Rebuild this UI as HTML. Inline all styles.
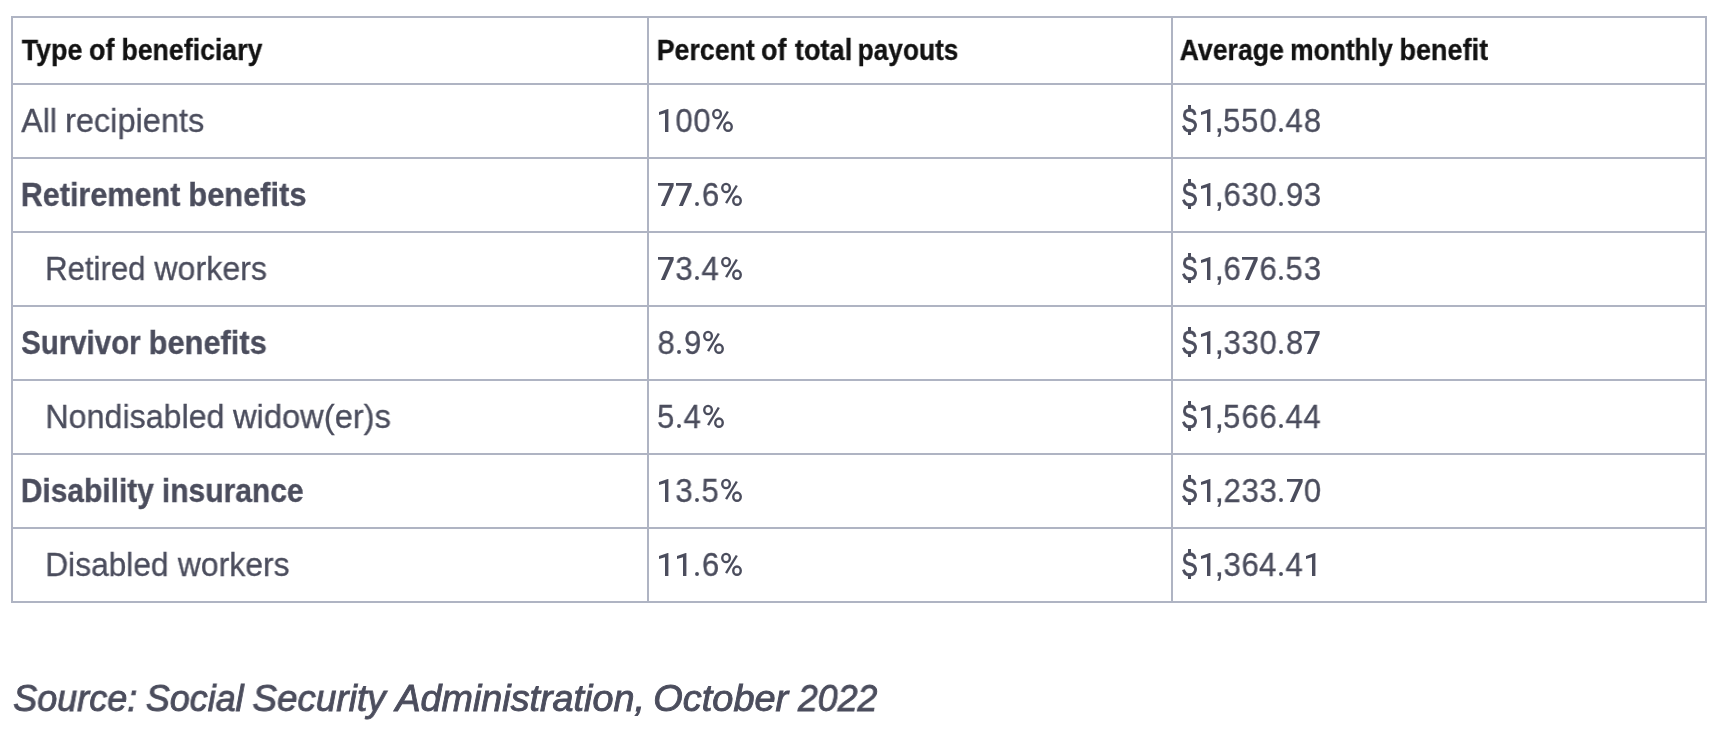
<!DOCTYPE html>
<html><head><meta charset="utf-8"><style>
html,body{margin:0;padding:0;background:#fff;width:1726px;height:734px;overflow:hidden;position:relative}
.h{position:absolute;left:11px;width:1696px;height:2px;background:#afb4c3}
.v{position:absolute;top:16px;width:2px;height:587px;background:#afb4c3}
.th,.td,.src{position:absolute;white-space:nowrap;font-family:"Liberation Sans",sans-serif;line-height:0;height:0;will-change:transform;transform-origin:0 0}
.th{font-size:29px;font-weight:700;color:#121212;-webkit-text-stroke:0.3px #121212}
.td{font-size:33px;color:#4b4d5d;-webkit-text-stroke:0.3px #4b4d5d}
.td.b{font-weight:700;-webkit-text-stroke:0.35px #4b4d5d}
.g{position:absolute;overflow:visible}
.src{font-size:37px;font-style:italic;color:#4b4d5d;-webkit-text-stroke:0.9px #4b4d5d}
</style></head><body>
<div class="h" style="top:16px"></div>
<div class="h" style="top:83px"></div>
<div class="h" style="top:157px"></div>
<div class="h" style="top:231px"></div>
<div class="h" style="top:305px"></div>
<div class="h" style="top:379px"></div>
<div class="h" style="top:453px"></div>
<div class="h" style="top:527px"></div>
<div class="h" style="top:601px"></div>
<div class="v" style="left:11px"></div>
<div class="v" style="left:647px"></div>
<div class="v" style="left:1171px"></div>
<div class="v" style="left:1705px"></div>
<div class="th" style="left:21px;top:50px;transform:translateX(0.700px) scaleX(0.9246)">Type</div>
<div class="th" style="left:88px;top:50px;transform:translateX(0.870px) scaleX(0.9333)">of</div>
<div class="th" style="left:121px;top:50px;transform:translateX(0.460px) scaleX(0.9205)">beneﬁciary</div>
<div class="th" style="left:656px;top:50px;transform:translateX(0.760px) scaleX(0.9212)">Percent</div>
<div class="th" style="left:760px;top:50px;transform:translateX(0.970px) scaleX(0.9296)">of</div>
<div class="th" style="left:794px;top:50px;transform:translateX(0.800px) scaleX(0.9373)">total</div>
<div class="th" style="left:857px;top:50px;transform:translateX(0.590px) scaleX(0.9065)">payouts</div>
<div class="th" style="left:1179px;top:50px;transform:translateX(0.680px) scaleX(0.9188)">Average</div>
<div class="th" style="left:1290px;top:50px;transform:translateX(0.080px) scaleX(0.9099)">monthly</div>
<div class="th" style="left:1399px;top:50px;transform:translateX(0.440px) scaleX(0.9323)">beneﬁt</div>
<div class="td" style="left:21px;top:121px;transform:translateX(0.200px) scaleX(0.9771)">All</div>
<div class="td" style="left:65px;top:121px;transform:translateX(0.030px) scaleX(0.9862)">recipients</div>
<svg class="g" style="left:657.30px;top:106px" width="14" height="28"><polygon points="11.40,3.05 11.40,26.00 8.00,26.00 8.00,7.30 2.00,8.90 2.00,5.90 10.70,3.05" fill="#4b4d5d"/></svg>
<div class="td" style="left:675px;top:121px;transform:translateX(0.440px) scaleX(0.94)">0</div>
<div class="td" style="left:693px;top:121px;transform:translateX(0.340px) scaleX(0.94)">0</div>
<svg class="g" style="left:710.05px;top:106px" width="26" height="28" fill="none" stroke="#4b4d5d" stroke-width="2.4"><ellipse cx="7.05" cy="8" rx="3.8" ry="4.15"/><ellipse cx="18.0" cy="20.65" rx="3.75" ry="4.15"/><line x1="7.1" y1="23.1" x2="17.8" y2="5.5"/></svg>
<div class="td" style="left:1181px;top:121px;transform:translateX(0.420px) scaleX(0.735);-webkit-text-stroke:0.8px #4b4d5d">S</div>
<div style="position:absolute;left:1188.45px;top:105.20px;width:2.6px;height:3.6px;background:#4b4d5d"></div>
<div style="position:absolute;left:1188.45px;top:131.20px;width:2.6px;height:3.6px;background:#4b4d5d"></div>
<svg class="g" style="left:1198.70px;top:106px" width="14" height="28"><polygon points="11.40,3.05 11.40,26.00 8.00,26.00 8.00,7.30 2.00,8.90 2.00,5.90 10.70,3.05" fill="#4b4d5d"/></svg>
<div class="td" style="left:1214px;top:121px;transform:translateX(0.700px) scaleX(1.0)">,</div>
<div class="td" style="left:1223px;top:121px;transform:translateX(0.070px) scaleX(0.94)">5</div>
<div class="td" style="left:1241px;top:121px;transform:translateX(0.070px) scaleX(0.94)">5</div>
<div class="td" style="left:1259px;top:121px;transform:translateX(0.540px) scaleX(0.94)">0</div>
<svg class="g" style="left:1277.00px;top:126.10px" width="8" height="8"><circle cx="4" cy="4" r="1.95" fill="#4b4d5d"/></svg>
<div class="td" style="left:1285px;top:121px;transform:translateX(0.470px) scaleX(0.94)">4</div>
<div class="td" style="left:1303px;top:121px;transform:translateX(0.840px) scaleX(0.94)">8</div>
<div class="td b" style="left:20px;top:195px;transform:translateX(0.750px) scaleX(0.9253)">Retirement</div>
<div class="td b" style="left:188px;top:195px;transform:translateX(0.330px) scaleX(0.9333)">beneﬁts</div>
<svg class="g" style="left:656.17px;top:180px" width="20" height="28"><polygon points="2.00,3.00 17.65,3.00 17.65,5.90 8.90,26.00 4.90,26.00 13.75,5.70 2.00,5.70" fill="#4b4d5d"/></svg>
<svg class="g" style="left:674.07px;top:180px" width="20" height="28"><polygon points="2.00,3.00 17.65,3.00 17.65,5.90 8.90,26.00 4.90,26.00 13.75,5.70 2.00,5.70" fill="#4b4d5d"/></svg>
<svg class="g" style="left:693.00px;top:200.10px" width="8" height="8"><circle cx="4" cy="4" r="1.95" fill="#4b4d5d"/></svg>
<div class="td" style="left:701px;top:195px;transform:translateX(0.940px) scaleX(0.94)">6</div>
<svg class="g" style="left:718.65px;top:180px" width="26" height="28" fill="none" stroke="#4b4d5d" stroke-width="2.4"><ellipse cx="7.05" cy="8" rx="3.8" ry="4.15"/><ellipse cx="18.0" cy="20.65" rx="3.75" ry="4.15"/><line x1="7.1" y1="23.1" x2="17.8" y2="5.5"/></svg>
<div class="td" style="left:1181px;top:195px;transform:translateX(0.420px) scaleX(0.735);-webkit-text-stroke:0.8px #4b4d5d">S</div>
<div style="position:absolute;left:1188.45px;top:179.20px;width:2.6px;height:3.6px;background:#4b4d5d"></div>
<div style="position:absolute;left:1188.45px;top:205.20px;width:2.6px;height:3.6px;background:#4b4d5d"></div>
<svg class="g" style="left:1198.70px;top:180px" width="14" height="28"><polygon points="11.40,3.05 11.40,26.00 8.00,26.00 8.00,7.30 2.00,8.90 2.00,5.90 10.70,3.05" fill="#4b4d5d"/></svg>
<div class="td" style="left:1214px;top:195px;transform:translateX(0.700px) scaleX(1.0)">,</div>
<div class="td" style="left:1223px;top:195px;transform:translateX(0.540px) scaleX(0.94)">6</div>
<div class="td" style="left:1241px;top:195px;transform:translateX(0.540px) scaleX(0.94)">3</div>
<div class="td" style="left:1259px;top:195px;transform:translateX(0.540px) scaleX(0.94)">0</div>
<svg class="g" style="left:1277.00px;top:200.10px" width="8" height="8"><circle cx="4" cy="4" r="1.95" fill="#4b4d5d"/></svg>
<div class="td" style="left:1285px;top:195px;transform:translateX(0.940px) scaleX(0.94)">9</div>
<div class="td" style="left:1303px;top:195px;transform:translateX(0.840px) scaleX(0.94)">3</div>
<div class="td" style="left:45px;top:269px;transform:translateX(0.110px) scaleX(0.9431)">Retired</div>
<div class="td" style="left:154px;top:269px;transform:translateX(0.300px) scaleX(0.9754)">workers</div>
<svg class="g" style="left:656.17px;top:254px" width="20" height="28"><polygon points="2.00,3.00 17.65,3.00 17.65,5.90 8.90,26.00 4.90,26.00 13.75,5.70 2.00,5.70" fill="#4b4d5d"/></svg>
<div class="td" style="left:675px;top:269px;transform:translateX(0.440px) scaleX(0.94)">3</div>
<svg class="g" style="left:693.00px;top:274.10px" width="8" height="8"><circle cx="4" cy="4" r="1.95" fill="#4b4d5d"/></svg>
<div class="td" style="left:701px;top:269px;transform:translateX(0.470px) scaleX(0.94)">4</div>
<svg class="g" style="left:718.65px;top:254px" width="26" height="28" fill="none" stroke="#4b4d5d" stroke-width="2.4"><ellipse cx="7.05" cy="8" rx="3.8" ry="4.15"/><ellipse cx="18.0" cy="20.65" rx="3.75" ry="4.15"/><line x1="7.1" y1="23.1" x2="17.8" y2="5.5"/></svg>
<div class="td" style="left:1181px;top:269px;transform:translateX(0.420px) scaleX(0.735);-webkit-text-stroke:0.8px #4b4d5d">S</div>
<div style="position:absolute;left:1188.45px;top:253.20px;width:2.6px;height:3.6px;background:#4b4d5d"></div>
<div style="position:absolute;left:1188.45px;top:279.20px;width:2.6px;height:3.6px;background:#4b4d5d"></div>
<svg class="g" style="left:1198.70px;top:254px" width="14" height="28"><polygon points="11.40,3.05 11.40,26.00 8.00,26.00 8.00,7.30 2.00,8.90 2.00,5.90 10.70,3.05" fill="#4b4d5d"/></svg>
<div class="td" style="left:1214px;top:269px;transform:translateX(0.700px) scaleX(1.0)">,</div>
<div class="td" style="left:1223px;top:269px;transform:translateX(0.540px) scaleX(0.94)">6</div>
<svg class="g" style="left:1240.17px;top:254px" width="20" height="28"><polygon points="2.00,3.00 17.65,3.00 17.65,5.90 8.90,26.00 4.90,26.00 13.75,5.70 2.00,5.70" fill="#4b4d5d"/></svg>
<div class="td" style="left:1259px;top:269px;transform:translateX(0.540px) scaleX(0.94)">6</div>
<svg class="g" style="left:1277.00px;top:274.10px" width="8" height="8"><circle cx="4" cy="4" r="1.95" fill="#4b4d5d"/></svg>
<div class="td" style="left:1285px;top:269px;transform:translateX(0.470px) scaleX(0.94)">5</div>
<div class="td" style="left:1303px;top:269px;transform:translateX(0.840px) scaleX(0.94)">3</div>
<div class="td b" style="left:21px;top:343px;transform:translateX(0.110px) scaleX(0.8925)">Survivor</div>
<div class="td b" style="left:148px;top:343px;transform:translateX(0.630px) scaleX(0.9333)">beneﬁts</div>
<div class="td" style="left:657px;top:343px;transform:translateX(0.540px) scaleX(0.94)">8</div>
<svg class="g" style="left:675.10px;top:348.10px" width="8" height="8"><circle cx="4" cy="4" r="1.95" fill="#4b4d5d"/></svg>
<div class="td" style="left:684px;top:343px;transform:translateX(0.040px) scaleX(0.94)">9</div>
<svg class="g" style="left:700.75px;top:328px" width="26" height="28" fill="none" stroke="#4b4d5d" stroke-width="2.4"><ellipse cx="7.05" cy="8" rx="3.8" ry="4.15"/><ellipse cx="18.0" cy="20.65" rx="3.75" ry="4.15"/><line x1="7.1" y1="23.1" x2="17.8" y2="5.5"/></svg>
<div class="td" style="left:1181px;top:343px;transform:translateX(0.420px) scaleX(0.735);-webkit-text-stroke:0.8px #4b4d5d">S</div>
<div style="position:absolute;left:1188.45px;top:327.20px;width:2.6px;height:3.6px;background:#4b4d5d"></div>
<div style="position:absolute;left:1188.45px;top:353.20px;width:2.6px;height:3.6px;background:#4b4d5d"></div>
<svg class="g" style="left:1198.70px;top:328px" width="14" height="28"><polygon points="11.40,3.05 11.40,26.00 8.00,26.00 8.00,7.30 2.00,8.90 2.00,5.90 10.70,3.05" fill="#4b4d5d"/></svg>
<div class="td" style="left:1214px;top:343px;transform:translateX(0.700px) scaleX(1.0)">,</div>
<div class="td" style="left:1223px;top:343px;transform:translateX(0.540px) scaleX(0.94)">3</div>
<div class="td" style="left:1241px;top:343px;transform:translateX(0.540px) scaleX(0.94)">3</div>
<div class="td" style="left:1259px;top:343px;transform:translateX(0.540px) scaleX(0.94)">0</div>
<svg class="g" style="left:1277.00px;top:348.10px" width="8" height="8"><circle cx="4" cy="4" r="1.95" fill="#4b4d5d"/></svg>
<div class="td" style="left:1285px;top:343px;transform:translateX(0.940px) scaleX(0.94)">8</div>
<svg class="g" style="left:1302.47px;top:328px" width="20" height="28"><polygon points="2.00,3.00 17.65,3.00 17.65,5.90 8.90,26.00 4.90,26.00 13.75,5.70 2.00,5.70" fill="#4b4d5d"/></svg>
<div class="td" style="left:45px;top:417px;transform:translateX(0.350px) scaleX(0.9765)">Nondisabled</div>
<div class="td" style="left:233px;top:417px;transform:translateX(0.000px) scaleX(0.9899)">widow(er)s</div>
<div class="td" style="left:657px;top:417px;transform:translateX(0.070px) scaleX(0.94)">5</div>
<svg class="g" style="left:675.10px;top:422.10px" width="8" height="8"><circle cx="4" cy="4" r="1.95" fill="#4b4d5d"/></svg>
<div class="td" style="left:683px;top:417px;transform:translateX(0.570px) scaleX(0.94)">4</div>
<svg class="g" style="left:700.75px;top:402px" width="26" height="28" fill="none" stroke="#4b4d5d" stroke-width="2.4"><ellipse cx="7.05" cy="8" rx="3.8" ry="4.15"/><ellipse cx="18.0" cy="20.65" rx="3.75" ry="4.15"/><line x1="7.1" y1="23.1" x2="17.8" y2="5.5"/></svg>
<div class="td" style="left:1181px;top:417px;transform:translateX(0.420px) scaleX(0.735);-webkit-text-stroke:0.8px #4b4d5d">S</div>
<div style="position:absolute;left:1188.45px;top:401.20px;width:2.6px;height:3.6px;background:#4b4d5d"></div>
<div style="position:absolute;left:1188.45px;top:427.20px;width:2.6px;height:3.6px;background:#4b4d5d"></div>
<svg class="g" style="left:1198.70px;top:402px" width="14" height="28"><polygon points="11.40,3.05 11.40,26.00 8.00,26.00 8.00,7.30 2.00,8.90 2.00,5.90 10.70,3.05" fill="#4b4d5d"/></svg>
<div class="td" style="left:1214px;top:417px;transform:translateX(0.700px) scaleX(1.0)">,</div>
<div class="td" style="left:1223px;top:417px;transform:translateX(0.070px) scaleX(0.94)">5</div>
<div class="td" style="left:1241px;top:417px;transform:translateX(0.540px) scaleX(0.94)">6</div>
<div class="td" style="left:1259px;top:417px;transform:translateX(0.540px) scaleX(0.94)">6</div>
<svg class="g" style="left:1277.00px;top:422.10px" width="8" height="8"><circle cx="4" cy="4" r="1.95" fill="#4b4d5d"/></svg>
<div class="td" style="left:1285px;top:417px;transform:translateX(0.470px) scaleX(0.94)">4</div>
<div class="td" style="left:1303px;top:417px;transform:translateX(0.370px) scaleX(0.94)">4</div>
<div class="td b" style="left:20px;top:491px;transform:translateX(0.780px) scaleX(0.9076)">Disability</div>
<div class="td b" style="left:161px;top:491px;transform:translateX(0.880px) scaleX(0.9092)">insurance</div>
<svg class="g" style="left:657.30px;top:476px" width="14" height="28"><polygon points="11.40,3.05 11.40,26.00 8.00,26.00 8.00,7.30 2.00,8.90 2.00,5.90 10.70,3.05" fill="#4b4d5d"/></svg>
<div class="td" style="left:675px;top:491px;transform:translateX(0.440px) scaleX(0.94)">3</div>
<svg class="g" style="left:693.00px;top:496.10px" width="8" height="8"><circle cx="4" cy="4" r="1.95" fill="#4b4d5d"/></svg>
<div class="td" style="left:701px;top:491px;transform:translateX(0.470px) scaleX(0.94)">5</div>
<svg class="g" style="left:718.65px;top:476px" width="26" height="28" fill="none" stroke="#4b4d5d" stroke-width="2.4"><ellipse cx="7.05" cy="8" rx="3.8" ry="4.15"/><ellipse cx="18.0" cy="20.65" rx="3.75" ry="4.15"/><line x1="7.1" y1="23.1" x2="17.8" y2="5.5"/></svg>
<div class="td" style="left:1181px;top:491px;transform:translateX(0.420px) scaleX(0.735);-webkit-text-stroke:0.8px #4b4d5d">S</div>
<div style="position:absolute;left:1188.45px;top:475.20px;width:2.6px;height:3.6px;background:#4b4d5d"></div>
<div style="position:absolute;left:1188.45px;top:501.20px;width:2.6px;height:3.6px;background:#4b4d5d"></div>
<svg class="g" style="left:1198.70px;top:476px" width="14" height="28"><polygon points="11.40,3.05 11.40,26.00 8.00,26.00 8.00,7.30 2.00,8.90 2.00,5.90 10.70,3.05" fill="#4b4d5d"/></svg>
<div class="td" style="left:1214px;top:491px;transform:translateX(0.700px) scaleX(1.0)">,</div>
<div class="td" style="left:1223px;top:491px;transform:translateX(0.540px) scaleX(0.94)">2</div>
<div class="td" style="left:1241px;top:491px;transform:translateX(0.540px) scaleX(0.94)">3</div>
<div class="td" style="left:1259px;top:491px;transform:translateX(0.540px) scaleX(0.94)">3</div>
<svg class="g" style="left:1277.00px;top:496.10px" width="8" height="8"><circle cx="4" cy="4" r="1.95" fill="#4b4d5d"/></svg>
<svg class="g" style="left:1284.57px;top:476px" width="20" height="28"><polygon points="2.00,3.00 17.65,3.00 17.65,5.90 8.90,26.00 4.90,26.00 13.75,5.70 2.00,5.70" fill="#4b4d5d"/></svg>
<div class="td" style="left:1303px;top:491px;transform:translateX(0.840px) scaleX(0.94)">0</div>
<div class="td" style="left:45px;top:565px;transform:translateX(0.280px) scaleX(0.9597)">Disabled</div>
<div class="td" style="left:177px;top:565px;transform:translateX(0.800px) scaleX(0.9675)">workers</div>
<svg class="g" style="left:657.30px;top:550px" width="14" height="28"><polygon points="11.40,3.05 11.40,26.00 8.00,26.00 8.00,7.30 2.00,8.90 2.00,5.90 10.70,3.05" fill="#4b4d5d"/></svg>
<svg class="g" style="left:675.20px;top:550px" width="14" height="28"><polygon points="11.40,3.05 11.40,26.00 8.00,26.00 8.00,7.30 2.00,8.90 2.00,5.90 10.70,3.05" fill="#4b4d5d"/></svg>
<svg class="g" style="left:693.00px;top:570.10px" width="8" height="8"><circle cx="4" cy="4" r="1.95" fill="#4b4d5d"/></svg>
<div class="td" style="left:701px;top:565px;transform:translateX(0.940px) scaleX(0.94)">6</div>
<svg class="g" style="left:718.65px;top:550px" width="26" height="28" fill="none" stroke="#4b4d5d" stroke-width="2.4"><ellipse cx="7.05" cy="8" rx="3.8" ry="4.15"/><ellipse cx="18.0" cy="20.65" rx="3.75" ry="4.15"/><line x1="7.1" y1="23.1" x2="17.8" y2="5.5"/></svg>
<div class="td" style="left:1181px;top:565px;transform:translateX(0.420px) scaleX(0.735);-webkit-text-stroke:0.8px #4b4d5d">S</div>
<div style="position:absolute;left:1188.45px;top:549.20px;width:2.6px;height:3.6px;background:#4b4d5d"></div>
<div style="position:absolute;left:1188.45px;top:575.20px;width:2.6px;height:3.6px;background:#4b4d5d"></div>
<svg class="g" style="left:1198.70px;top:550px" width="14" height="28"><polygon points="11.40,3.05 11.40,26.00 8.00,26.00 8.00,7.30 2.00,8.90 2.00,5.90 10.70,3.05" fill="#4b4d5d"/></svg>
<div class="td" style="left:1214px;top:565px;transform:translateX(0.700px) scaleX(1.0)">,</div>
<div class="td" style="left:1223px;top:565px;transform:translateX(0.540px) scaleX(0.94)">3</div>
<div class="td" style="left:1241px;top:565px;transform:translateX(0.540px) scaleX(0.94)">6</div>
<div class="td" style="left:1259px;top:565px;transform:translateX(0.070px) scaleX(0.94)">4</div>
<svg class="g" style="left:1277.00px;top:570.10px" width="8" height="8"><circle cx="4" cy="4" r="1.95" fill="#4b4d5d"/></svg>
<div class="td" style="left:1285px;top:565px;transform:translateX(0.470px) scaleX(0.94)">4</div>
<svg class="g" style="left:1303.60px;top:550px" width="14" height="28"><polygon points="11.40,3.05 11.40,26.00 8.00,26.00 8.00,7.30 2.00,8.90 2.00,5.90 10.70,3.05" fill="#4b4d5d"/></svg>
<div class="src" style="left:13px;top:699px;transform:translateX(0.130px) scaleX(0.9728)">Source:</div>
<div class="src" style="left:145px;top:699px;transform:translateX(0.830px) scaleX(0.9703)">Social</div>
<div class="src" style="left:252px;top:699px;transform:translateX(0.400px) scaleX(0.9956)">Security</div>
<div class="src" style="left:395px;top:699px;transform:translateX(0.440px) scaleX(1.0193)">Administration,</div>
<div class="src" style="left:653px;top:699px;transform:translateX(0.350px) scaleX(1.0244)">October</div>
<div class="src" style="left:797px;top:699px;transform:translateX(0.960px) scaleX(0.9639)">2022</div>
</body></html>
